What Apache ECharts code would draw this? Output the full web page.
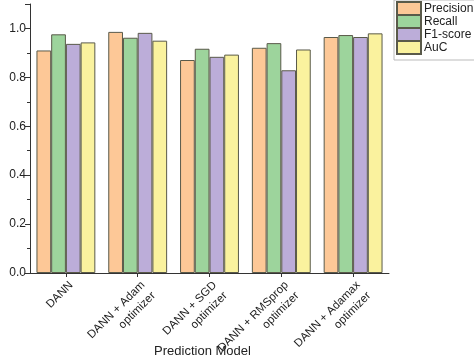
<!DOCTYPE html>
<html><head><meta charset="utf-8">
<script src="https://cdn.jsdelivr.net/npm/echarts@6/dist/echarts.min.js"></script>
<style>html,body{margin:0;padding:0;background:#fff}#c{width:474px;height:364px}</style>
</head><body><div id="c"></div>
<script>
const categories = ['DANN', 'DANN + Adam\noptimizer', 'DANN + SGD\noptimizer', 'DANN + RMSprop\noptimizer', 'DANN + Adamax\noptimizer'];
const precision = [0.910, 0.986, 0.871, 0.921, 0.965];
const recall    = [0.976, 0.962, 0.917, 0.940, 0.973];
const f1score   = [0.937, 0.982, 0.884, 0.829, 0.965];
const auc       = [0.943, 0.950, 0.893, 0.914, 0.980];
const seriesNames = ['Precision', 'Recall', 'F1-score', 'AuC'];
const colors = ['#FDC897', '#9DD49C', '#BCADD9', '#FAF29E'];
const yTicks = [0, 0.2, 0.4, 0.6, 0.8, 1.0];

const chart = echarts.init(document.getElementById('c'));
const txt = '#222';
const font = 'Liberation Sans, Arial, sans-serif';
chart.setOption({
  animation: false,
  textStyle: { fontFamily: font },
  grid: { left: 30, right: 85, top: 4, bottom: 91, containLabel: false, outerBoundsMode: 'none' },
  legend: {
    left: 394, top: 0, orient: 'vertical', itemGap: -2,
    itemWidth: 24, itemHeight: 13,
    padding: [1, 10, 5, 2],
    borderColor: '#bbb', borderWidth: 1, backgroundColor: '#fff',
    textStyle: { fontSize: 12, lineHeight: 13, color: txt, fontFamily: font, padding: [0, 0, 0, -2] },
    data: seriesNames.map(n => ({ name: n, icon: 'rect' }))
  },
  xAxis: {
    type: 'category', data: categories,
    name: 'Prediction Model', nameLocation: 'middle', nameGap: 72, nameMoveOverlap: false,
    nameTextStyle: { fontSize: 13, color: txt, padding: [0, 14, 0, 0] },
    axisLine: { lineStyle: { color: '#333', width: 1 } },
    axisTick: { show: true, alignWithLabel: true, length: 4, lineStyle: { color: '#333' } },
    axisLabel: { rotate: 45, fontSize: 11.5, color: txt, interval: 0, margin: 5, lineHeight: 15, verticalAlign: 'top' }
  },
  yAxis: {
    type: 'value', min: 0, max: 1.1, interval: 0.2,
    splitLine: { show: false },
    axisLine: { show: true, lineStyle: { color: '#333', width: 1 } },
    axisTick: { show: true, length: 5, lineStyle: { color: '#333' } },
    minorTick: { show: true, splitNumber: 2, length: 3, lineStyle: { color: '#333' } },
    axisLabel: {
      fontSize: 12, color: txt, margin: 4, showMaxLabel: false,
      formatter: v => yTicks.some(t => Math.abs(t - v) < 1e-9) ? v.toFixed(1) : ''
    }
  },
  series: [precision, recall, f1score, auc].map((d, i) => ({
    name: seriesNames[i], type: 'bar', data: d,
    barGap: '0%', barCategoryGap: '18%',
    itemStyle: { color: colors[i], borderColor: '#5a5a4a', borderWidth: 1 }
  }))
});
</script></body></html>
